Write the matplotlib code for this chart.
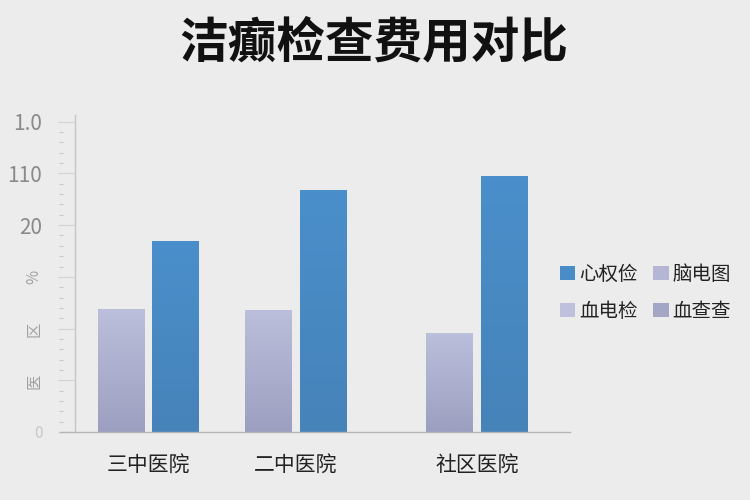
import matplotlib
matplotlib.use("Agg")
import matplotlib.pyplot as plt
import numpy as np
from matplotlib.patches import Patch
import matplotlib.transforms as mtransforms

plt.rcParams['font.family'] = ['Noto Sans CJK SC', 'DejaVu Sans']

# ---- data ----
title = "洁癫检查费用对比"
categories = ["三中医院", "二中医院", "社区医院"]
cat_pos = [0.0, 1.0, 2.23]
light_vals = [23.8, 23.6, 19.1]
blue_vals = [36.9, 46.8, 49.5]
ytick_vals = [0, 10, 20, 30, 40, 50, 60]
ytick_labels = ["0", "医", "区", "%", "20", "110", "1.0"]
legend_labels = ["心权俭", "血电检", "脑电图", "血查查"]
legend_colors = ["#4a8cc8", "#bfc1dc", "#b4b6d4", "#a3a6c4"]

# ---- style ----
bg = "#ececec"
fig = plt.figure(figsize=(7.5, 5), dpi=100, facecolor=bg)
ax = fig.add_axes([75/750, 68/500, (570-75)/750, (432-115)/500])
ax.set_facecolor("none")

width = 0.312
off = 0.186
x = np.array(cat_pos)
b1 = ax.bar(x - off, light_vals, width, color="#b0b3d0", zorder=2)
b2 = ax.bar(x + off, blue_vals, width, color="#4a8cc8", zorder=2)

def grad(bars, top, bottom):
    c_top = np.array(matplotlib.colors.to_rgb(top))
    c_bot = np.array(matplotlib.colors.to_rgb(bottom))
    t = np.linspace(0, 1, 64)[:, None]
    img = (c_top[None, :] * (1 - t) + c_bot[None, :] * t)[:, None, :]
    for p in bars:
        x0, y0 = p.get_x(), p.get_y()
        w, h = p.get_width(), p.get_height()
        im = ax.imshow(img, extent=[x0, x0 + w, y0, y0 + h], aspect="auto",
                       origin="upper", zorder=3)
        im.set_clip_path(p)

grad(b1, "#bcbfdb", "#9c9fbf")
grad(b2, "#4a8fcb", "#4683b9")

ax.set_xlim(-0.495, 2.861)
ax.set_ylim(0, 61.3)

for s in ["top", "right", "bottom"]:
    ax.spines[s].set_visible(False)
ax.spines["left"].set_color("#c4c4c4")
ax.spines["left"].set_linewidth(1.0)

# bottom baseline extending slightly left of the y-axis
trans = mtransforms.blended_transform_factory(ax.transAxes, ax.transData)
ax.plot([-0.03, 1.0], [0, 0], color="#b5b5b5", lw=1.0, transform=trans,
        clip_on=False, zorder=4)

ax.set_yticks(ytick_vals)
ax.set_yticklabels(ytick_labels)
ax.tick_params(axis="y", length=12, color="#d2d2d2", width=0.8, pad=11.5,
               labelsize=15, labelcolor="#8a8a8a")
for lab, v in zip(ax.get_yticklabels(), ytick_vals):
    if v in (10, 20, 30):
        lab.set_rotation(90)
        lab.set_fontsize(11)
        lab.set_color("#a0a0a0")
    if v == 0:
        lab.set_color("#c8c8c8")
        lab.set_fontsize(11)

# faint minor dashes left of axis
minor_y = [v for v in np.arange(0, 61, 2) if v % 10 != 0]
ax.scatter([-0.028] * len(minor_y), minor_y, marker="_", s=12, color="#c8c8c8",
           transform=trans, clip_on=False, lw=0.8)

ax.set_xticks(cat_pos)
ax.set_xticklabels(categories)
ax.tick_params(axis="x", length=0, pad=16, labelsize=15, labelcolor="#222222")

fig.text(0.499, 1 - 43/500, title, ha="center", va="center", fontsize=35,
         fontweight="bold", color="#111111")

handles = [Patch(facecolor=c, edgecolor="none") for c in legend_colors]
fig.legend(handles, legend_labels, ncol=2, loc="upper left",
           bbox_to_anchor=(542/750, 1 - 246/500), frameon=False, fontsize=14,
           handlelength=0.8, handleheight=0.75, handletextpad=0.2,
           columnspacing=0.8, labelspacing=0.85, labelcolor="#222222")

fig.savefig("out.png", dpi=100, facecolor=bg)
